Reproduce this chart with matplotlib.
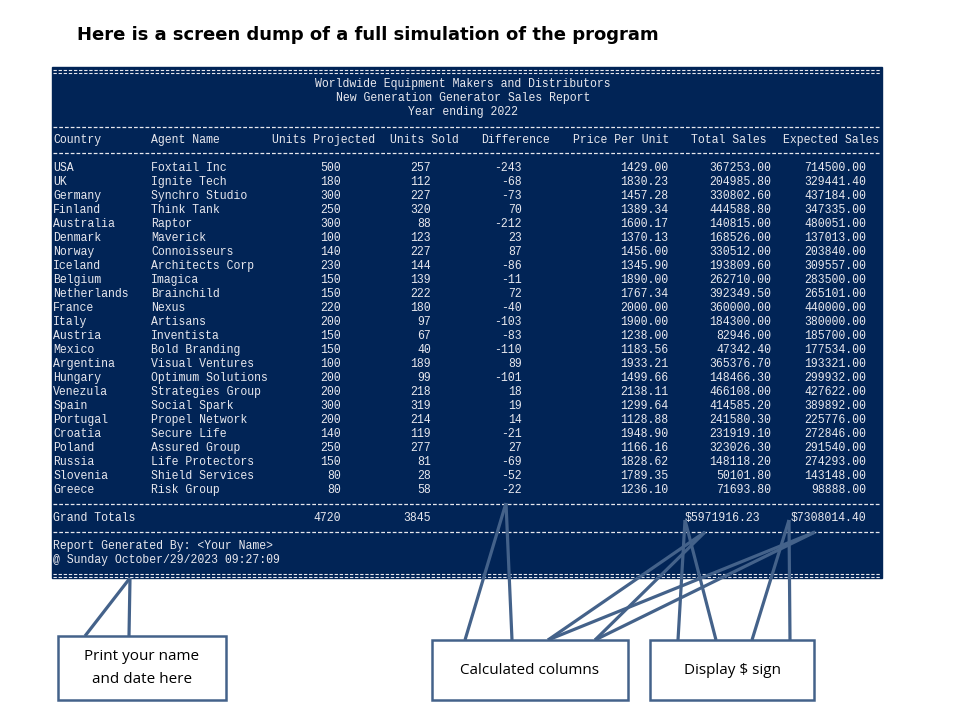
import matplotlib
matplotlib.use("Agg")
import matplotlib.pyplot as plt
from matplotlib.patches import Rectangle

countries = ["USA","UK","Germany","Finland","Australia","Denmark","Norway","Iceland","Belgium",
             "Netherlands","France","Italy","Austria","Mexico","Argentina","Hungary","Venezula",
             "Spain","Portugal","Croatia","Poland","Russia","Slovenia","Greece"]
agents = ["Foxtail Inc","Ignite Tech","Synchro Studio","Think Tank","Raptor","Maverick","Connoisseurs",
          "Architects Corp","Imagica","Brainchild","Nexus","Artisans","Inventista","Bold Branding",
          "Visual Ventures","Optimum Solutions","Strategies Group","Social Spark","Propel Network",
          "Secure Life","Assured Group","Life Protectors","Shield Services","Risk Group"]
projected = [500,180,300,250,300,100,140,230,150,150,220,200,150,150,100,200,200,300,200,140,250,150,80,80]
sold = [257,112,227,320,88,123,227,144,139,222,180,97,67,40,189,99,218,319,214,119,277,81,28,58]
difference = [-243,-68,-73,70,-212,23,87,-86,-11,72,-40,-103,-83,-110,89,-101,18,19,14,-21,27,-69,-52,-22]
price = [1429.00,1830.23,1457.28,1389.34,1600.17,1370.13,1456.00,1345.90,1890.00,1767.34,2000.00,1900.00,
         1238.00,1183.56,1933.21,1499.66,2138.11,1299.64,1128.88,1948.90,1166.16,1828.62,1789.35,1236.10]
total_sales = [367253.00,204985.80,330802.60,444588.80,140815.00,168526.00,330512.00,193809.60,262710.00,
               392349.50,360000.00,184300.00,82946.00,47342.40,365376.70,148466.30,466108.00,414585.20,
               241580.30,231919.10,323026.30,148118.20,50101.80,71693.80]
expected_sales = [714500.00,329441.40,437184.00,347335.00,480051.00,137013.00,203840.00,309557.00,283500.00,
                  265101.00,440000.00,380000.00,185700.00,177534.00,193321.00,299932.00,427622.00,389892.00,
                  225776.00,272846.00,291540.00,274293.00,143148.00,98888.00]
headers = ["Country","Agent Name","Units Projected","Units Sold","Difference","Price Per Unit","Total Sales","Expected Sales"]
grand_projected, grand_sold = 4720, 3845
grand_total, grand_expected = "$5971916.23", "$7308014.40"

fig = plt.figure(figsize=(9.63, 7.08), dpi=100)
ax = fig.add_axes([0, 0, 1, 1])
ax.set_xlim(0, 963); ax.set_ylim(708, 0); ax.axis("off")

bg = "#012456"; fg = "#e8e8ee"
mono = dict(family="Liberation Mono", fontsize=8.3, color=fg, va="center")
ax.add_patch(Rectangle((52, 67), 830, 511, color=bg, zorder=0))

ax.text(77, 35, "Here is a screen dump of a full simulation of the program",
        fontsize=13, fontweight="bold", family="DejaVu Sans", va="center", color="black")

for y in (127, 153, 504, 532):
    ax.plot([53, 881], [y, y], color=fg, lw=0.9, dashes=(3, 1.6))
for y in (69.5, 72.5, 573.5, 576.5):
    ax.plot([53, 881], [y, y], color=fg, lw=0.8, dashes=(3, 1.6))

for i, t in enumerate(["Worldwide Equipment Makers and Distributors", "New Generation Generator Sales Report", "Year ending 2022"]):
    ax.text(463, 84 + 14 * i, t, ha="center", **mono)

hx = [53, 151, 375, 459, 550, 669, 767, 879]
for j, h in enumerate(headers):
    ax.text(hx[j], 140, h, ha="left" if j < 2 else "right", **mono)

rx = [341, 431, 522, 668, 771, 866]
for i in range(len(countries)):
    y = 168 + 14 * i
    ax.text(53, y, countries[i], ha="left", **mono)
    ax.text(151, y, agents[i], ha="left", **mono)
    vals = [str(projected[i]), str(sold[i]), str(difference[i]), f"{price[i]:.2f}",
            f"{total_sales[i]:.2f}", f"{expected_sales[i]:.2f}"]
    for x, v in zip(rx, vals):
        ax.text(x, y, v, ha="right", **mono)

ax.text(53, 518, "Grand Totals", ha="left", **mono)
ax.text(341, 518, str(grand_projected), ha="right", **mono)
ax.text(431, 518, str(grand_sold), ha="right", **mono)
ax.text(760, 518, grand_total, ha="right", **mono)
ax.text(866, 518, grand_expected, ha="right", **mono)
ax.text(53, 546, "Report Generated By: <Your Name>", ha="left", **mono)
ax.text(53, 560, "@ Sunday October/29/2023 09:27:09", ha="left", **mono)

lc = "#44628a"
segs = [((130, 578), (85, 636)), ((130, 578), (129, 636)),
        ((506, 503), (465, 640)), ((506, 503), (512, 640)),
        ((705, 532), (548, 640)), ((705, 532), (595, 640)),
        ((815, 532), (548, 640)), ((815, 532), (595, 640)),
        ((685, 520), (678, 640)), ((685, 520), (716, 640)),
        ((789, 520), (752, 640)), ((789, 520), (790, 640))]
for a, b in segs:
    ax.plot([a[0], b[0]], [a[1], b[1]], color=lc, lw=2.3, solid_capstyle="butt", zorder=3)

boxes = [((58, 636, 168, 64), "Print your name\nand date here"),
         ((432, 640, 196, 60), "Calculated columns"),
         ((650, 640, 164, 60), "Display $ sign")]
for (x, y, w, h), t in boxes:
    ax.add_patch(Rectangle((x, y), w, h, facecolor="white", edgecolor=lc, lw=1.8, zorder=4))
    ax.text(x + w / 2, y + h / 2, t, ha="center", va="center", fontsize=11, family="Open Sans",
            linespacing=1.8, zorder=5)

fig.savefig("out.png", dpi=100)
